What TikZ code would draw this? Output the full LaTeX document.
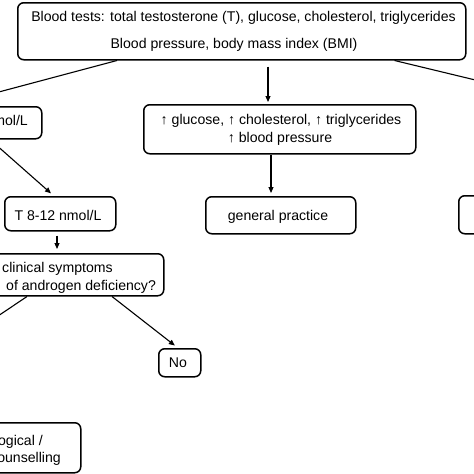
\documentclass[tikz,border=0pt]{standalone}
\usepackage{fontspec}
\setmainfont{Liberation Sans}
\usetikzlibrary{arrows.meta,positioning,calc}
\tikzset{
  box/.style={draw, line width=1.5pt, rounded corners=6pt, inner sep=0pt, anchor=north west},
  txt/.style={inner sep=0pt, anchor=base, font=\fontsize{14.1pt}{16pt}\selectfont},
  conn/.style={line width=1.1pt},
  arr/.style={conn, -{Triangle[length=6pt,width=5pt]}},
}
\newcommand{\mkbox}[5]{\node[box, minimum width=#4pt-#2pt, minimum height=#5pt-#3pt] (#1) at (#2,#3) {};}
\begin{document}
\begin{tikzpicture}[x=1pt,y=-1pt]
\useasboundingbox (0,0) rectangle (474,474);
\clip (0,0) rectangle (474,474);
\fill[white] (0,0) rectangle (474,474);
% boxes
\mkbox{top}{17}{2}{465}{59}
\mkbox{nmol}{-60}{106}{41}{138}
\mkbox{incr}{143}{104}{415}{153}
\mkbox{tmid}{4}{196}{115}{230}
\mkbox{gp}{205}{196}{355}{233}
\mkbox{rbox}{458}{195}{540}{233}
\mkbox{clin}{-60}{253}{163}{295}
\mkbox{no}{158}{348}{200}{376}
\mkbox{psy}{-80}{422}{80}{472}
% texts
\node[txt] (t1) at (243.5,21) {Blood tests: total testosterone (T), glucose, cholesterol, triglycerides};
\node[txt] (t2) at (234,48) {Blood pressure, body mass index (BMI)};
\node[txt] (t3) at (281,124) {↑ glucose, ↑ cholesterol, ↑ triglycerides};
\node[txt] (t4) at (280,142) {↑ blood pressure};
\node[txt, anchor=base east] (t5) at (28,125) {nmol/L};
\node[txt] (t6) at (58,220) {T 8-12 nmol/L};
\node[txt] (t7) at (278,220) {general practice};
\node[txt, anchor=base west] (t8) at (2,272) {clinical symptoms};
\node[txt, anchor=base west] (t9) at (6,290) {of androgen deficiency?};
\node[txt] (t10) at (178,367) {No};
\node[txt, anchor=base east] (t11) at (43,445) {ogical /};
\node[txt, anchor=base east] (t12) at (61,462) {ounselling};
% off-screen ends
\coordinate (tlend) at (-50,105);
\coordinate (trend) at (579,105);
\coordinate (cl) at (-60,355);
% connectors
\draw[arr] ([xshift=100pt]top.south west) -- (tlend);
\draw[arr] ([xshift=-72pt]top.south east) -- (trend);
\draw[arr, shorten <=6pt, shorten >=2pt] (top.south -| 268,0) -- (incr.north -| 268,0);
\draw[arr, shorten >=3pt] (incr.south -| 271,0) -- (gp.north -| 271,0);
\draw[arr, shorten >=4pt] ([xshift=50pt]nmol.south west) -- ([xshift=50pt]tmid.north west);
\draw[arr, shorten <=4pt, shorten >=4pt] (tmid.south -| 57,0) -- (clin.north -| 57,0);
\draw[arr] ([xshift=87pt]clin.south west) -- (cl);
\draw[arr, shorten >=4pt] ([xshift=172pt]clin.south west) -- ([xshift=20pt]no.north west);
\end{tikzpicture}
\end{document}
